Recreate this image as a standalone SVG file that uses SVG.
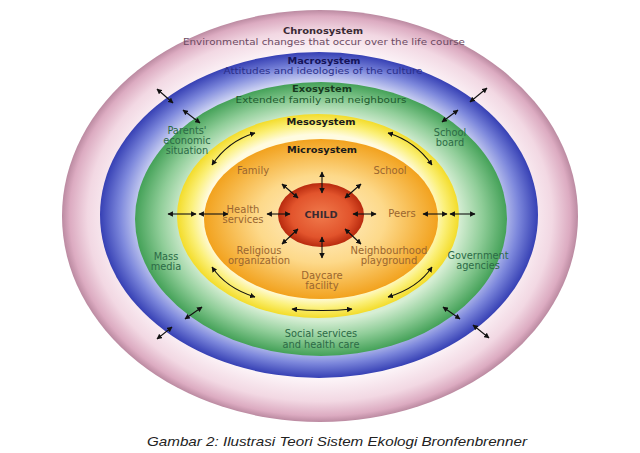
<svg xmlns="http://www.w3.org/2000/svg" width="640" height="453" viewBox="0 0 640 453">
<defs>
<radialGradient id="gChrono" cx="0.5" cy="0.5" r="0.5">
<stop offset="0.78" stop-color="#fdf7fa"/><stop offset="0.9" stop-color="#f2d8e3"/><stop offset="0.97" stop-color="#dcabc1"/><stop offset="1" stop-color="#bb8aa1"/>
</radialGradient>
<radialGradient id="gMacro" cx="0.5" cy="0.5" r="0.5">
<stop offset="0.82" stop-color="#ccd2f2"/><stop offset="0.91" stop-color="#7d88dc"/><stop offset="1" stop-color="#3640b4"/>
</radialGradient>
<radialGradient id="gExo" cx="0.5" cy="0.5" r="0.5">
<stop offset="0.74" stop-color="#d6eed4"/><stop offset="0.87" stop-color="#8fcd98"/><stop offset="1" stop-color="#44a158"/>
</radialGradient>
<radialGradient id="gMeso" cx="0.5" cy="0.5" r="0.5">
<stop offset="0.8" stop-color="#fffbe0"/><stop offset="0.9" stop-color="#fbf07a"/><stop offset="1" stop-color="#f3dc2a"/>
</radialGradient>
<radialGradient id="gMicro" cx="0.5" cy="0.5" r="0.5">
<stop offset="0" stop-color="#fff1cf"/><stop offset="0.55" stop-color="#fdd98a"/><stop offset="1" stop-color="#f2a21e"/>
</radialGradient>
<radialGradient id="gChild" cx="0.5" cy="0.5" r="0.5">
<stop offset="0" stop-color="#f07a4c"/><stop offset="0.7" stop-color="#e2542c"/><stop offset="1" stop-color="#b82a0e"/>
</radialGradient>
<marker id="ah" viewBox="0 0 10 10" refX="9" refY="5" markerWidth="5" markerHeight="5" orient="auto-start-reverse">
<path d="M0,0 L10,5 L0,10 z" fill="#111"/>
</marker>
</defs>
<style>
.lbl{font-family:"DejaVu Sans","Liberation Sans",sans-serif;text-anchor:middle}
.b{font-weight:bold}
.h{font-size:8.8px}
.d{font-size:9px}
.mi{fill:#9a6630;font-size:10px}
.ex{fill:#2c6a46;font-size:9.8px}
.arr{fill:none;stroke:#111;stroke-width:1.1;marker-start:url(#ah);marker-end:url(#ah)}
</style>
<rect width="640" height="453" fill="#ffffff"/>

<g id="chronosystem">
<ellipse cx="320" cy="216" rx="258" ry="206" fill="url(#gChrono)"/>
<text class="lbl b h" x="323" y="33.5" fill="#3a2a34" textLength="80" lengthAdjust="spacingAndGlyphs">Chronosystem</text>
<text class="lbl d" x="324" y="45" fill="#6b4a62" textLength="282" lengthAdjust="spacingAndGlyphs">Environmental changes that occur over the life course</text>
</g>
<g id="macrosystem">
<ellipse cx="319" cy="215" rx="219" ry="163" fill="url(#gMacro)"/>
<text class="lbl b h" x="324" y="63.5" fill="#14145a" textLength="73" lengthAdjust="spacingAndGlyphs">Macrosystem</text>
<text class="lbl d" x="323" y="74" fill="#2a2f8a" textLength="199" lengthAdjust="spacingAndGlyphs">Attitudes and ideologies of the culture</text>
</g>
<g id="exosystem">
<ellipse cx="321" cy="219" rx="186" ry="137" fill="url(#gExo)"/>
<text class="lbl b h" x="322" y="92" fill="#183a20" textLength="60" lengthAdjust="spacingAndGlyphs">Exosystem</text>
<text class="lbl d" x="321" y="102.5" fill="#1e5a2e" textLength="171" lengthAdjust="spacingAndGlyphs">Extended family and neighbours</text>
</g>
<g id="mesosystem">
<ellipse cx="318" cy="216" rx="141" ry="102" fill="url(#gMeso)"/>
<text class="lbl b h" x="321" y="125" fill="#1a1a1a" textLength="69" lengthAdjust="spacingAndGlyphs">Mesosystem</text>
</g>
<g id="microsystem">
<ellipse cx="321" cy="219" rx="117" ry="80" fill="url(#gMicro)"/>
<text class="lbl b h" x="322" y="153" fill="#1a1a1a" textLength="70" lengthAdjust="spacingAndGlyphs">Microsystem</text>
</g>
<g id="child">
<ellipse cx="321" cy="215" rx="43" ry="32" fill="url(#gChild)"/>
<text class="lbl b" x="321" y="218" font-size="9" fill="#3a2a30" textLength="33" lengthAdjust="spacingAndGlyphs">CHILD</text>
</g>

<g id="family"><text class="lbl mi" x="253" y="174">Family</text></g>
<g id="school"><text class="lbl mi" x="390" y="174">School</text></g>
<g id="health-services"><text class="lbl mi" x="243" y="213">Health</text><text class="lbl mi" x="243" y="223">services</text></g>
<g id="peers"><text class="lbl mi" x="402" y="217">Peers</text></g>
<g id="religious-organization"><text class="lbl mi" x="259" y="254">Religious</text><text class="lbl mi" x="259" y="264">organization</text></g>
<g id="neighbourhood-playground"><text class="lbl mi" x="389" y="254">Neighbourhood</text><text class="lbl mi" x="389" y="264">playground</text></g>
<g id="daycare-facility"><text class="lbl mi" x="322" y="279">Daycare</text><text class="lbl mi" x="322" y="289">facility</text></g>

<g id="parents-economic-situation"><text class="lbl ex" x="187" y="134">Parents'</text><text class="lbl ex" x="187" y="144">economic</text><text class="lbl ex" x="187" y="154">situation</text></g>
<g id="school-board"><text class="lbl ex" x="450" y="136">School</text><text class="lbl ex" x="450" y="146">board</text></g>
<g id="mass-media"><text class="lbl ex" x="166" y="260">Mass</text><text class="lbl ex" x="166" y="270">media</text></g>
<g id="government-agencies"><text class="lbl ex" x="478" y="259">Government</text><text class="lbl ex" x="478" y="269">agencies</text></g>
<g id="social-services"><text class="lbl ex" x="321" y="337">Social services</text><text class="lbl ex" x="321" y="348">and health care</text></g>

<g id="connectors">
<line class="arr" x1="322" y1="172" x2="322" y2="193"/>
<line class="arr" x1="322" y1="237" x2="322" y2="258"/>
<line class="arr" x1="267" y1="214" x2="290" y2="214"/>
<line class="arr" x1="353" y1="214" x2="376" y2="214"/>
<line class="arr" x1="282" y1="184" x2="298" y2="198"/>
<line class="arr" x1="361" y1="184" x2="345" y2="198"/>
<line class="arr" x1="282" y1="244" x2="298" y2="229"/>
<line class="arr" x1="361" y1="244" x2="345" y2="229"/>

<line class="arr" x1="168" y1="214" x2="196" y2="214"/>
<line class="arr" x1="199" y1="214" x2="228" y2="214"/>
<line class="arr" x1="423" y1="214" x2="447" y2="214"/>
<line class="arr" x1="450" y1="214" x2="475" y2="214"/>

<path class="arr" d="M255,133 Q228,141 212,165"/>
<path class="arr" d="M388,133 Q415,141 432,165"/>
<path class="arr" d="M212,267 Q226,288 255,297"/>
<path class="arr" d="M432,267 Q418,288 388,297"/>
<path class="arr" d="M292,309 Q322,312 352,309"/>

<line class="arr" x1="157" y1="89" x2="173" y2="103"/>
<line class="arr" x1="183" y1="110" x2="200" y2="123"/>
<line class="arr" x1="487" y1="88" x2="470" y2="102"/>
<line class="arr" x1="458" y1="110" x2="442" y2="122"/>
<line class="arr" x1="202" y1="307" x2="185" y2="319"/>
<line class="arr" x1="172" y1="327" x2="157" y2="339"/>
<line class="arr" x1="443" y1="307" x2="460" y2="319"/>
<line class="arr" x1="473" y1="325" x2="489" y2="338"/>
</g>

<text x="337" y="446" font-family="Liberation Sans, Arial, sans-serif" font-size="13" font-style="italic" fill="#222" text-anchor="middle" textLength="380" lengthAdjust="spacingAndGlyphs">Gambar 2: Ilustrasi Teori Sistem Ekologi Bronfenbrenner</text>
</svg>
